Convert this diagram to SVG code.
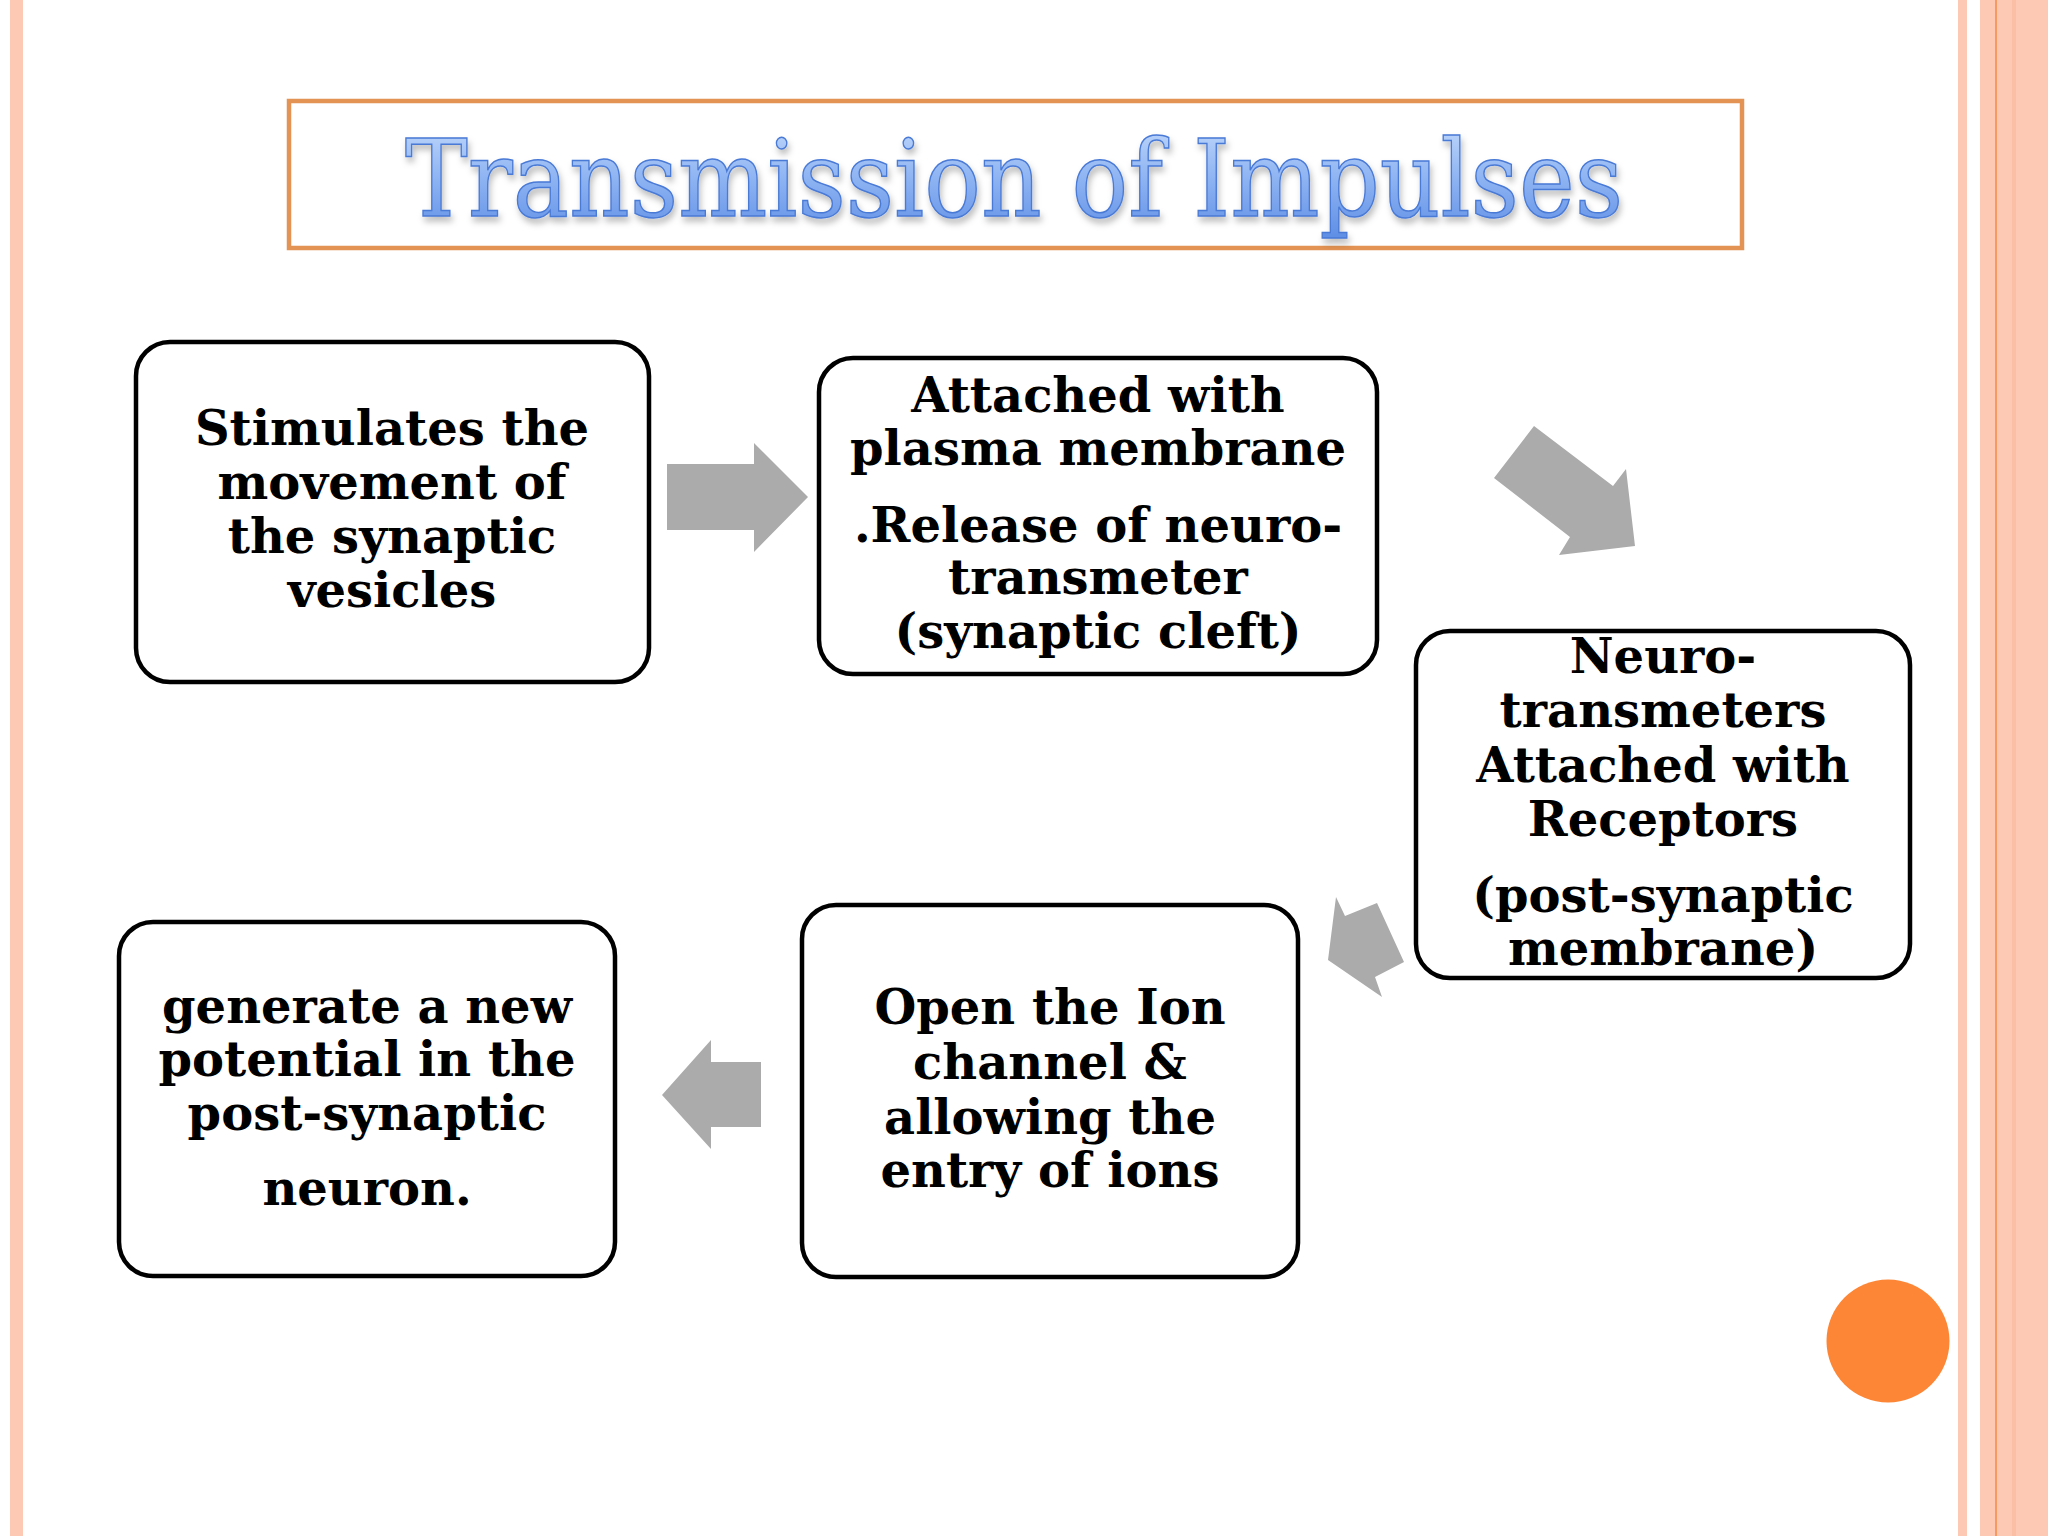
<svg xmlns="http://www.w3.org/2000/svg" width="2048" height="1536" viewBox="0 0 2048 1536">
<defs>
<linearGradient id="tg" x1="0" y1="0" x2="0" y2="1">
<stop offset="0" stop-color="#C4DAFB"/>
<stop offset="0.5" stop-color="#8DB3F2"/>
<stop offset="1" stop-color="#5C8CE4"/>
</linearGradient>
<filter id="sh" x="-5%" y="-20%" width="110%" height="150%">
<feDropShadow dx="2" dy="5" stdDeviation="3" flood-color="#000" flood-opacity="0.25"/>
</filter>
<style>
.box{fill:#fff;stroke:#000;stroke-width:4.5}
.t{font-family:"DejaVu Serif","Liberation Serif",serif;font-weight:bold;font-size:48px;fill:#000;text-anchor:middle}
.arr{fill:#ABABAB}
.pk{fill:#FDC9B4}
</style>
</defs>
<rect width="2048" height="1536" fill="#fff"/>
<g id="borders">
<rect class="pk" x="10" y="0" width="13" height="1536"/>
<rect class="pk" x="1958" y="0" width="9" height="1536"/>
<rect class="pk" x="1980" y="0" width="68" height="1536"/>
<rect x="1995" y="0" width="2" height="1536" fill="#F79A62"/>
<rect x="2012" y="0" width="4" height="1536" fill="#FBBFA6"/>
</g>
<g id="title">
<rect x="289" y="101" width="1453" height="147" fill="#fff" stroke="#E39353" stroke-width="4.5"/>
<text x="1014" y="216" font-family="DejaVu Serif,Liberation Serif,serif" font-size="106" text-anchor="middle" fill="url(#tg)" stroke="#4A7AD6" stroke-width="1.5" textLength="1218" lengthAdjust="spacingAndGlyphs" filter="url(#sh)">Transmission of Impulses</text>
</g>
<g id="connectors">
<polygon class="arr" points="667,464 754,464 754,443 808,497 754,552 754,530 667,530"/>
<polygon class="arr" points="1534,426 1613,486 1626,469 1635,546 1559,555 1570,537 1494,478"/>
<polygon class="arr" points="1336,897 1345,916 1377,903 1404,962 1375,977 1382,997 1328,960"/>
<polygon class="arr" points="662,1095 711,1040 711,1062 761,1062 761,1127 711,1127 711,1149"/>
</g>
<g id="node1">
<rect class="box" x="136" y="342" width="513" height="340" rx="34"/>
<text class="t"><tspan x="392" y="445">Stimulates the</tspan><tspan x="392" y="499">movement of</tspan><tspan x="392" y="553">the synaptic</tspan><tspan x="392" y="607">vesicles</tspan></text>
</g>
<g id="node2">
<rect class="box" x="819" y="358" width="558" height="316" rx="34"/>
<text class="t"><tspan x="1098" y="412">Attached with</tspan><tspan x="1098" y="465">plasma membrane</tspan><tspan x="1098" y="542">.Release of neuro-</tspan><tspan x="1098" y="594">transmeter</tspan><tspan x="1098" y="648">(synaptic cleft)</tspan></text>
</g>
<g id="node3">
<rect class="box" x="1416" y="631" width="494" height="347" rx="34"/>
<text class="t"><tspan x="1663" y="673">Neuro-</tspan><tspan x="1663" y="727">transmeters</tspan><tspan x="1663" y="782">Attached with</tspan><tspan x="1663" y="836">Receptors</tspan><tspan x="1663" y="912">(post-synaptic</tspan><tspan x="1663" y="965">membrane)</tspan></text>
</g>
<g id="node4">
<rect class="box" x="802" y="905" width="496" height="372" rx="34"/>
<text class="t"><tspan x="1050" y="1024">Open the Ion</tspan><tspan x="1050" y="1079">channel &amp;</tspan><tspan x="1050" y="1134">allowing the</tspan><tspan x="1050" y="1187">entry of ions</tspan></text>
</g>
<g id="node5">
<rect class="box" x="119" y="922" width="496" height="354" rx="34"/>
<text class="t"><tspan x="367" y="1023">generate a new</tspan><tspan x="367" y="1076">potential in the</tspan><tspan x="367" y="1130">post-synaptic</tspan><tspan x="367" y="1205">neuron.</tspan></text>
</g>
<g id="decor">
<circle cx="1888" cy="1341" r="61.5" fill="#FD8636"/>
</g>
</svg>
